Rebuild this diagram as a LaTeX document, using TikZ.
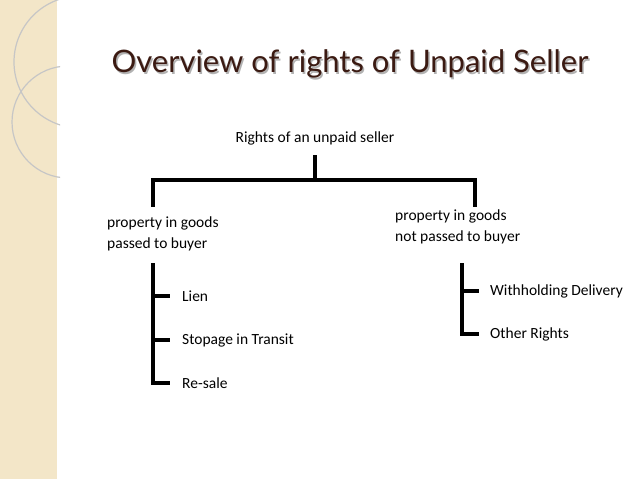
\documentclass[tikz,border=0pt]{standalone}
\usepackage{fontspec}
\setmainfont{Carlito}
\newfontfamily\titlefont{Lato}
\definecolor{strip}{HTML}{F3E6C8}
\definecolor{titlebrown}{HTML}{3B1A12}
\tikzset{x=1pt,y=-1pt,
  bar/.style={line width=3.4pt,line cap=rect},
  item/.style={font=\fontsize{15.5}{18}\selectfont,anchor=west,inner sep=0pt},
  head/.style={font=\fontsize{15.5}{21}\selectfont,align=left,anchor=north west,inner sep=0pt}}
\begin{document}
\begin{tikzpicture}
  \useasboundingbox (0,0) rectangle (638,479);
  \fill[white] (0,0) rectangle (638,479);
  % left strip
  \fill[strip] (0,0) rectangle (57,479);
  \begin{scope}
    \clip (0,0) rectangle (60,479);
    \draw[gray!45,line width=1.2pt] (80,62) circle (66);
    \draw[gray!45,line width=1.2pt] (68,122) circle (56);
  \end{scope}
  % title
  \node[font=\titlefont\fontsize{31}{34}\selectfont,text=gray!60,inner sep=0pt] at (351.5,65.5) {Overview of rights of Unpaid Seller};
  \node[font=\titlefont\fontsize{31}{34}\selectfont,text=titlebrown,inner sep=0pt] (title) at (350,64) {Overview of rights of Unpaid Seller};
  % tree
  \node[item,anchor=center] (root) at (315,138) {Rights of an unpaid seller};
  \coordinate (rt) at (315,157);
  \coordinate (jn) at (315,180);
  \coordinate (lt) at (153,180);
  \coordinate (rr) at (475,180);
  \coordinate (lb) at (153,205);
  \coordinate (rb) at (475,205);
  \draw[bar] (rt) -- (jn);
  \draw[bar] (lb) -- (lt) -- (rr) -- (rb);
  \node[head] (left) at (107,217) {property in goods\\passed to buyer};
  \node[head] (right) at (395,210) {property in goods\\not passed to buyer};
  % left branch
  \coordinate (ltop) at (153,265);
  \node[item] (lien) at (182,296) {Lien};
  \node[item] (transit) at (182,340) {Stopage in Transit};
  \node[item] (resale) at (182,383) {Re-sale};
  \draw[bar] (ltop) |- ([xshift=-14pt]resale.west);
  \foreach \n in {lien,transit}
    \draw[bar] (153,0 |- \n.west) -- ([xshift=-14pt]\n.west);
  % right branch
  \coordinate (rtop) at (462,265);
  \node[item] (hold) at (490,291) {Withholding Delivery};
  \node[item] (other) at (490,334) {Other Rights};
  \draw[bar] (rtop) |- ([xshift=-13pt]other.west);
  \draw[bar] (462,0 |- hold.west) -- ([xshift=-13pt]hold.west);
\end{tikzpicture}
\end{document}
